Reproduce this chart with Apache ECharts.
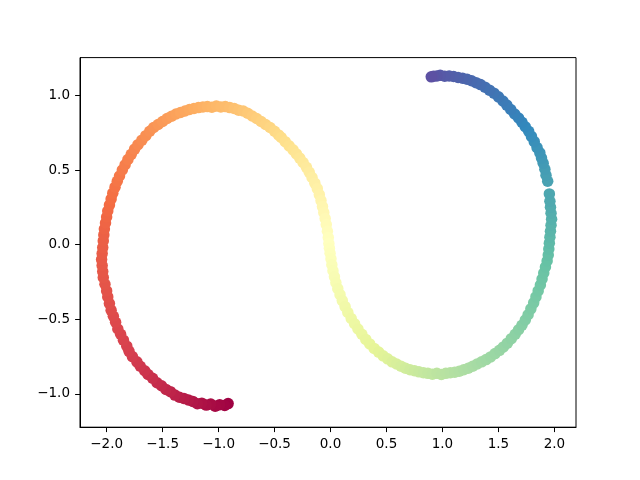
<!DOCTYPE html>
<html><head><meta charset="utf-8">
<script src="https://cdn.jsdelivr.net/npm/echarts@6/dist/echarts.min.js"></script>
<style>html,body{margin:0;padding:0;background:#fff}#c{width:640px;height:480px}</style>
</head><body><div id="c"></div>
<script>
const xs = [
-0.915,-0.945,-0.99,-1.03,-1.07,-1.11,-1.15,-1.19,-1.23,-1.27,-1.31,-1.35,-1.39,-1.43,-1.47,-1.51,-1.55,-1.59,-1.63,-1.66,-1.70,-1.73,-1.77,-1.80,-1.82,-1.85,-1.875,-1.90,-1.92,-1.94,-1.96,-1.975,-1.99,-2.00,-2.015,-2.03,-2.035,-2.04,-2.045,-2.04,-2.035,
-2.03,-2.025,-2.02,-2.01,-2.00,-1.99,-1.975,-1.96,-1.945,-1.925,-1.905,-1.885,-1.86,-1.835,-1.81,-1.78,-1.75,-1.72,-1.685,-1.65,-1.615,-1.58,-1.54,-1.50,-1.46,-1.42,-1.38,-1.34,-1.30,-1.26,-1.22,-1.18,-1.14,-1.10,-1.06,-1.02,-0.98,-0.94,-0.90,
-0.86,-0.82,-0.78,-0.74,-0.70,-0.66,-0.62,-0.58,-0.54,-0.50,-0.465,-0.44,-0.405,-0.37,-0.335,-0.305,-0.275,-0.245,-0.215,-0.19,-0.165,-0.14,-0.118,-0.10,-0.085,-0.072,-0.060,-0.048,-0.038,-0.028,-0.020,
-0.015,-0.010,-0.004,0.004,0.012,0.022,0.035,0.048,0.065,0.085,0.105,0.13,0.155,0.185,0.215,0.245,0.28,0.315,0.35,0.39,0.43,0.47,0.51,0.55,0.59,0.63,0.67,0.71,0.75,0.79,0.83,0.87,0.91,
0.95,0.99,1.03,1.07,1.11,1.15,1.19,1.23,1.27,1.31,1.35,1.39,1.43,1.47,1.51,1.545,1.58,1.615,1.65,1.68,1.71,1.74,1.765,1.79,1.815,1.835,1.855,1.875,1.89,1.905,1.92,1.935,1.945,1.95,1.955,1.96,1.965,1.97,1.975,1.97,
1.965,1.96,1.955,1.94,1.925,1.915,1.90,1.885,1.87,1.845,1.82,1.795,1.77,1.74,1.71,1.68,1.645,1.61,1.575,1.54,1.50,1.46,1.42,1.38,1.34,1.30,1.26,1.22,1.18,1.14,1.10,1.06,1.02,0.98,0.95,0.92,0.90
];
const ys = [
-1.065,-1.078,-1.072,-1.082,-1.068,-1.075,-1.062,-1.066,-1.050,-1.040,-1.030,-1.022,-1.008,-0.985,-0.970,-0.945,-0.925,-0.895,-0.870,-0.845,-0.815,-0.785,-0.750,-0.715,-0.680,-0.640,-0.600,-0.565,-0.520,-0.480,-0.440,-0.395,-0.350,-0.310,-0.265,-0.220,-0.180,-0.140,-0.100,-0.060,-0.020,
0.025,0.065,0.105,0.145,0.185,0.225,0.265,0.305,0.345,0.385,0.425,0.460,0.500,0.535,0.570,0.605,0.640,0.670,0.700,0.730,0.760,0.785,0.805,0.825,0.845,0.860,0.875,0.885,0.895,0.905,0.912,0.918,0.922,0.925,0.920,0.928,0.922,0.925,0.918,
0.912,0.900,0.895,0.880,0.862,0.845,0.825,0.805,0.785,0.760,0.735,0.718,0.690,0.662,0.635,0.608,0.580,0.550,0.518,0.485,0.450,0.412,0.375,0.335,0.295,0.255,0.215,0.175,0.135,0.090,0.048,
0.008,-0.025,-0.058,-0.095,-0.135,-0.175,-0.215,-0.255,-0.295,-0.335,-0.375,-0.415,-0.455,-0.495,-0.530,-0.565,-0.600,-0.635,-0.665,-0.695,-0.720,-0.745,-0.765,-0.785,-0.800,-0.815,-0.828,-0.838,-0.845,-0.852,-0.858,-0.862,-0.868,
-0.862,-0.870,-0.862,-0.858,-0.855,-0.848,-0.838,-0.828,-0.815,-0.800,-0.785,-0.770,-0.752,-0.730,-0.708,-0.685,-0.660,-0.630,-0.600,-0.570,-0.540,-0.505,-0.470,-0.430,-0.390,-0.350,-0.310,-0.270,-0.230,-0.190,-0.150,-0.110,-0.070,-0.030,0.010,0.050,0.090,0.130,0.170,0.210,
0.250,0.290,0.340,0.425,0.465,0.505,0.545,0.580,0.615,0.650,0.690,0.725,0.760,0.790,0.820,0.848,0.875,0.905,0.935,0.962,0.990,1.015,1.035,1.055,1.072,1.085,1.098,1.108,1.115,1.120,1.126,1.130,1.128,1.134,1.130,1.128,1.124
];
const ts = [
-4.70,-4.66,-4.62,-4.58,-4.54,-4.50,-4.46,-4.42,-4.38,-4.34,-4.30,-4.26,-4.22,-4.17,-4.13,-4.08,-4.04,-3.99,-3.95,-3.91,-3.87,-3.83,-3.78,-3.74,-3.70,-3.66,-3.62,-3.58,-3.54,-3.50,-3.46,-3.42,-3.38,-3.34,-3.30,-3.27,-3.24,-3.21,-3.18,-3.16,-3.13,
-3.10,-3.06,-3.02,-2.98,-2.94,-2.90,-2.86,-2.82,-2.78,-2.74,-2.70,-2.66,-2.62,-2.58,-2.54,-2.50,-2.46,-2.42,-2.38,-2.34,-2.30,-2.26,-2.22,-2.18,-2.14,-2.10,-2.06,-2.02,-1.98,-1.94,-1.90,-1.86,-1.82,-1.78,-1.74,-1.70,-1.66,-1.62,-1.58,
-1.53,-1.48,-1.43,-1.38,-1.33,-1.28,-1.23,-1.18,-1.13,-1.08,-1.03,-0.98,-0.93,-0.88,-0.83,-0.78,-0.73,-0.68,-0.63,-0.58,-0.53,-0.48,-0.43,-0.38,-0.33,-0.28,-0.23,-0.18,-0.13,-0.08,-0.04,
0.00,0.04,0.08,0.12,0.17,0.22,0.27,0.32,0.37,0.42,0.47,0.52,0.57,0.62,0.67,0.72,0.77,0.82,0.87,0.92,0.97,1.02,1.07,1.12,1.17,1.22,1.27,1.32,1.37,1.42,1.47,1.51,1.55,
1.59,1.63,1.67,1.71,1.75,1.79,1.83,1.87,1.91,1.95,1.99,2.03,2.07,2.11,2.15,2.19,2.23,2.27,2.31,2.35,2.39,2.43,2.47,2.51,2.55,2.59,2.63,2.67,2.71,2.75,2.79,2.83,2.87,2.91,2.95,2.99,3.03,3.07,3.11,3.15,
3.19,3.23,3.27,3.35,3.39,3.43,3.47,3.51,3.55,3.59,3.63,3.67,3.71,3.75,3.79,3.83,3.87,3.91,3.95,3.99,4.03,4.07,4.11,4.15,4.19,4.23,4.27,4.31,4.35,4.39,4.43,4.47,4.51,4.55,4.59,4.63,4.68
];
const xTicks = [-2.0,-1.5,-1.0,-0.5,0.0,0.5,1.0,1.5,2.0];
const yTicks = [-1.0,-0.5,0.0,0.5,1.0];
const spectral = ['#9e0142','#d53e4f','#f46d43','#fdae61','#fee08b','#ffffbf','#e6f598','#abdda4','#66c2a5','#3288bd','#5e4fa2'];

const n = Math.min(xs.length, ys.length, ts.length);
const pts = [];
for (let i = 0; i < n; i++) pts.push([xs[i], ys[i], ts[i]]);

const fmt = v => v.toFixed(1).replace('-', '\u2212');
const font = 'DejaVu Sans';
const chart = echarts.init(document.getElementById('c'), null, {renderer: 'canvas'});
chart.setOption({
  animation: false,
  backgroundColor: '#fff',
  grid: {left: 80, right: 64, top: 57.6, bottom: 52.8, show: true, borderColor: '#000', borderWidth: 1, backgroundColor: 'transparent'},
  xAxis: {
    type: 'value', min: -2.238, max: 2.193,
    axisLine: {show: true, onZero: false, lineStyle: {color: '#000', width: 1}},
    axisTick: {show: true, inside: false, length: 4.9, lineStyle: {color: '#000', width: 1}, customValues: xTicks},
    axisLabel: {show: true, color: '#000', fontFamily: font, fontSize: 13.5, margin: 10, customValues: xTicks, formatter: fmt},
    splitLine: {show: false}
  },
  yAxis: {
    type: 'value', min: -1.223, max: 1.253,
    axisLine: {show: true, onZero: false, lineStyle: {color: '#000', width: 1}},
    axisTick: {show: true, inside: false, length: 4.9, lineStyle: {color: '#000', width: 1}, customValues: yTicks},
    axisLabel: {show: true, color: '#000', fontFamily: font, fontSize: 13.5, margin: 10, customValues: yTicks, formatter: fmt},
    splitLine: {show: false}
  },
  visualMap: {show: false, type: 'continuous', dimension: 2, min: -4.71, max: 4.71, inRange: {color: spectral}},
  series: [{type: 'scatter', data: pts, symbol: 'circle', symbolSize: 11.5, itemStyle: {opacity: 1}}]
});
</script></body></html>
